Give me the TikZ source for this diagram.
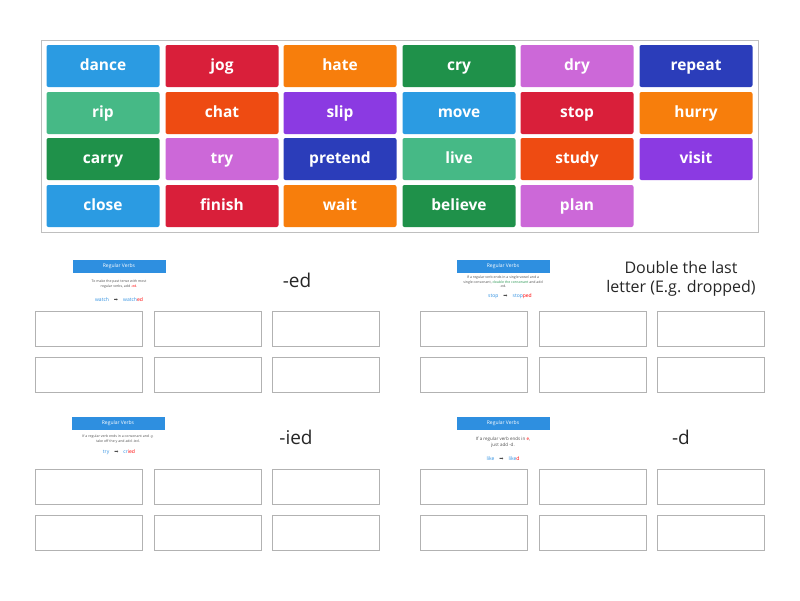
\documentclass[tikz,border=0pt]{standalone}
\usepackage{fontspec}
\setmainfont{Open Sans}
\newfontfamily\djfont{DejaVu Sans}
\definecolor{cblue}{HTML}{2B9BE2}
\definecolor{cred}{HTML}{D91F3A}
\definecolor{corange}{HTML}{F77E0C}
\definecolor{cgreen}{HTML}{1F914A}
\definecolor{corchid}{HTML}{CC68D8}
\definecolor{cindigo}{HTML}{2B3DBA}
\definecolor{clgreen}{HTML}{46B986}
\definecolor{cored}{HTML}{EE4B12}
\definecolor{cpurple}{HTML}{8B3AE2}
\definecolor{hdr}{HTML}{2E8FE0}
\begin{document}
\begin{tikzpicture}[x=1pt,y=-1pt,
  tile/.style={fill=#1,rounded corners=2pt,minimum width=113pt,minimum height=42pt,text=white,font=\bfseries\fontsize{15.5}{15.5}\selectfont,inner sep=0pt,text height=11.5pt,text depth=3.5pt},
  drop/.style={draw=black!30,minimum width=107pt,minimum height=35pt,inner sep=0pt},
  lab/.style={font=\fontsize{16}{19}\selectfont,align=center,text=black!85},
  hbar/.style={fill=hdr,minimum width=93pt,minimum height=13pt,inner sep=0pt,text=white,font=\fontsize{5}{5}\selectfont},
  tiny/.style={font=\fontsize{3.5}{4.5}\selectfont,align=center,text=black!70,inner sep=0pt}]
\useasboundingbox (0,0) rectangle (800,600);
\node[draw=black!25,minimum width=717pt,minimum height=192pt,inner sep=0pt,anchor=north west] (frame) at (41,40) {};
\def\cols{{103,222,340,459,577,696}}
\def\rows{{66,113,159,206}}
\foreach \w/\c/\i/\j in {dance/cblue/0/0,jog/cred/1/0,hate/corange/2/0,cry/cgreen/3/0,dry/corchid/4/0,repeat/cindigo/5/0,
 rip/clgreen/0/1,chat/cored/1/1,slip/cpurple/2/1,move/cblue/3/1,stop/cred/4/1,hurry/corange/5/1,
 carry/cgreen/0/2,try/corchid/1/2,pretend/cindigo/2/2,live/clgreen/3/2,study/cored/4/2,visit/cpurple/5/2,
 close/cblue/0/3,finish/cred/1/3,wait/corange/2/3,believe/cgreen/3/3,plan/corchid/4/3}
 {\pgfmathsetmacro\xx{\cols[\i]}\pgfmathsetmacro\yy{\rows[\j]}
  \node[tile=\c] (t-\w) at (\xx,\yy) {\w};}
% drop zones
\foreach \gx/\g in {0/a,385/b}{
 \foreach \gy/\h in {0/u,158/v}{
  \foreach \cx [count=\k] in {88.5,207.5,325.5}{
   \node[drop] (d-\g\h\k-1) at (\cx+\gx,328.5+\gy) {};
   \node[drop] (d-\g\h\k-2) at (\cx+\gx,374.5+\gy) {};
  }}}
\node[lab,font=\fontsize{19}{22}\selectfont] (l1) at (297,280) {-ed};
\node[lab] (l2) at (681,279) {Double the last\\letter (E.g. dropped)};
\node[lab,font=\fontsize{19}{22}\selectfont] (l3) at (296,437) {-ied};
\node[lab,font=\fontsize{19}{22}\selectfont] (l4) at (681,437) {-d};
% pictures
\node[hbar] (h1) at (119,266) {Regular Verbs};
\node[tiny] (p1) at (119,284) {To make the past tense with most\\regular verbs, add \textcolor{red}{-ed}.};
\node[tiny,font=\fontsize{5}{5}\selectfont] (w1) at (119,300) {\textcolor{hdr}{watch}\quad{\djfont ➡}\quad\textcolor{hdr}{watch}\textcolor{red}{ed}};
\node[hbar] (h2) at (503,266) {Regular Verbs};
\node[tiny] (p2) at (503,282) {If a regular verb ends in a single vowel and a\\single consonant, \textcolor{cgreen}{double the consonant} and add\\-ed.};
\node[tiny,font=\fontsize{5}{5}\selectfont] (w2) at (510,296) {\textcolor{hdr}{stop}\quad{\djfont ➡}\quad\textcolor{hdr}{stop}\textcolor{red}{ped}};
\node[hbar] (h3) at (118,423) {Regular Verbs};
\node[tiny] (p3) at (118,439) {If a regular verb ends in a consonant and -y,\\take off the y and add -ied.};
\node[tiny,font=\fontsize{5}{5}\selectfont] (w3) at (119,452) {\textcolor{hdr}{try}\quad{\djfont ➡}\quad\textcolor{hdr}{cr}\textcolor{red}{ied}};
\node[hbar] (h4) at (503,423) {Regular Verbs};
\node[tiny,font=\fontsize{4.5}{6}\selectfont] (p4) at (503,442) {If a regular verb ends in \textcolor{red}{e},\\just add -d.};
\node[tiny,font=\fontsize{5}{5}\selectfont] (w4) at (503,459) {\textcolor{hdr}{like}\quad{\djfont ➡}\quad\textcolor{hdr}{like}\textcolor{red}{d}};
\end{tikzpicture}
\end{document}
